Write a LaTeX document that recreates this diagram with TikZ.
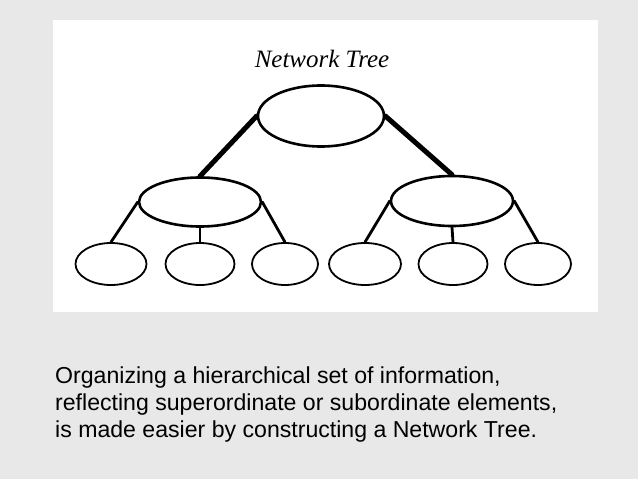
\documentclass[tikz,border=0pt]{standalone}
\usepackage{fontspec}
\setmainfont{Liberation Sans}
\newfontfamily\serifit{Liberation Serif}
\usetikzlibrary{shapes.geometric}
\begin{document}
\begin{tikzpicture}[x=1pt,y=-1pt,
  ov/.style={draw,ellipse,line width=2.6pt,inner sep=0pt},
  lf/.style={draw,ellipse,line width=1.8pt,inner sep=0pt,minimum height=42},
  lk/.style={line width=5pt,line cap=round},
  sl/.style={line width=2.8pt,line cap=round}]
\fill[gray!18] (0,0) rectangle (638,479);
\useasboundingbox (0,0) rectangle (638,479);
\fill[white] (53,20) rectangle (598,312);
\node (title) at (322,59) {\serifit\itshape\fontsize{25}{28}\selectfont Network Tree};
\node[ov,minimum width=126,minimum height=61] (top) at (321,116) {};
\node[ov,minimum width=122,minimum height=49] (ml) at (200,202) {};
\node[ov,minimum width=122,minimum height=50] (mr) at (452,201) {};
\node[lf,minimum width=71] (l1) at (111,264) {};
\node[lf,minimum width=69] (l2) at (200,264) {};
\node[lf,minimum width=66] (l3) at (285,264) {};
\node[lf,minimum width=72] (l4) at (365,264) {};
\node[lf,minimum width=69] (l5) at (453,264) {};
\node[lf,minimum width=66] (l6) at (538,264) {};
\draw[lk] (top.west) -- (ml.north);
\draw[lk] (top.east) -- (mr.north);
\draw[sl] (ml.west) -- (l1.north);
\draw[sl] (ml.south) -- (l2.north);
\draw[sl] (ml.east) -- (l3.north);
\draw[sl] (mr.west) -- (l4.north);
\draw[sl] (mr.south) -- (l5.north);
\draw[sl] (mr.east) -- (l6.north);
\node[anchor=north west,align=left,inner sep=0pt,font=\fontsize{23.1}{27}\selectfont] (txt) at (55,367)
 {Organizing a hierarchical set of information,\\reflecting superordinate or subordinate elements,\\is made easier by constructing a Network Tree.};
\end{tikzpicture}
\end{document}
